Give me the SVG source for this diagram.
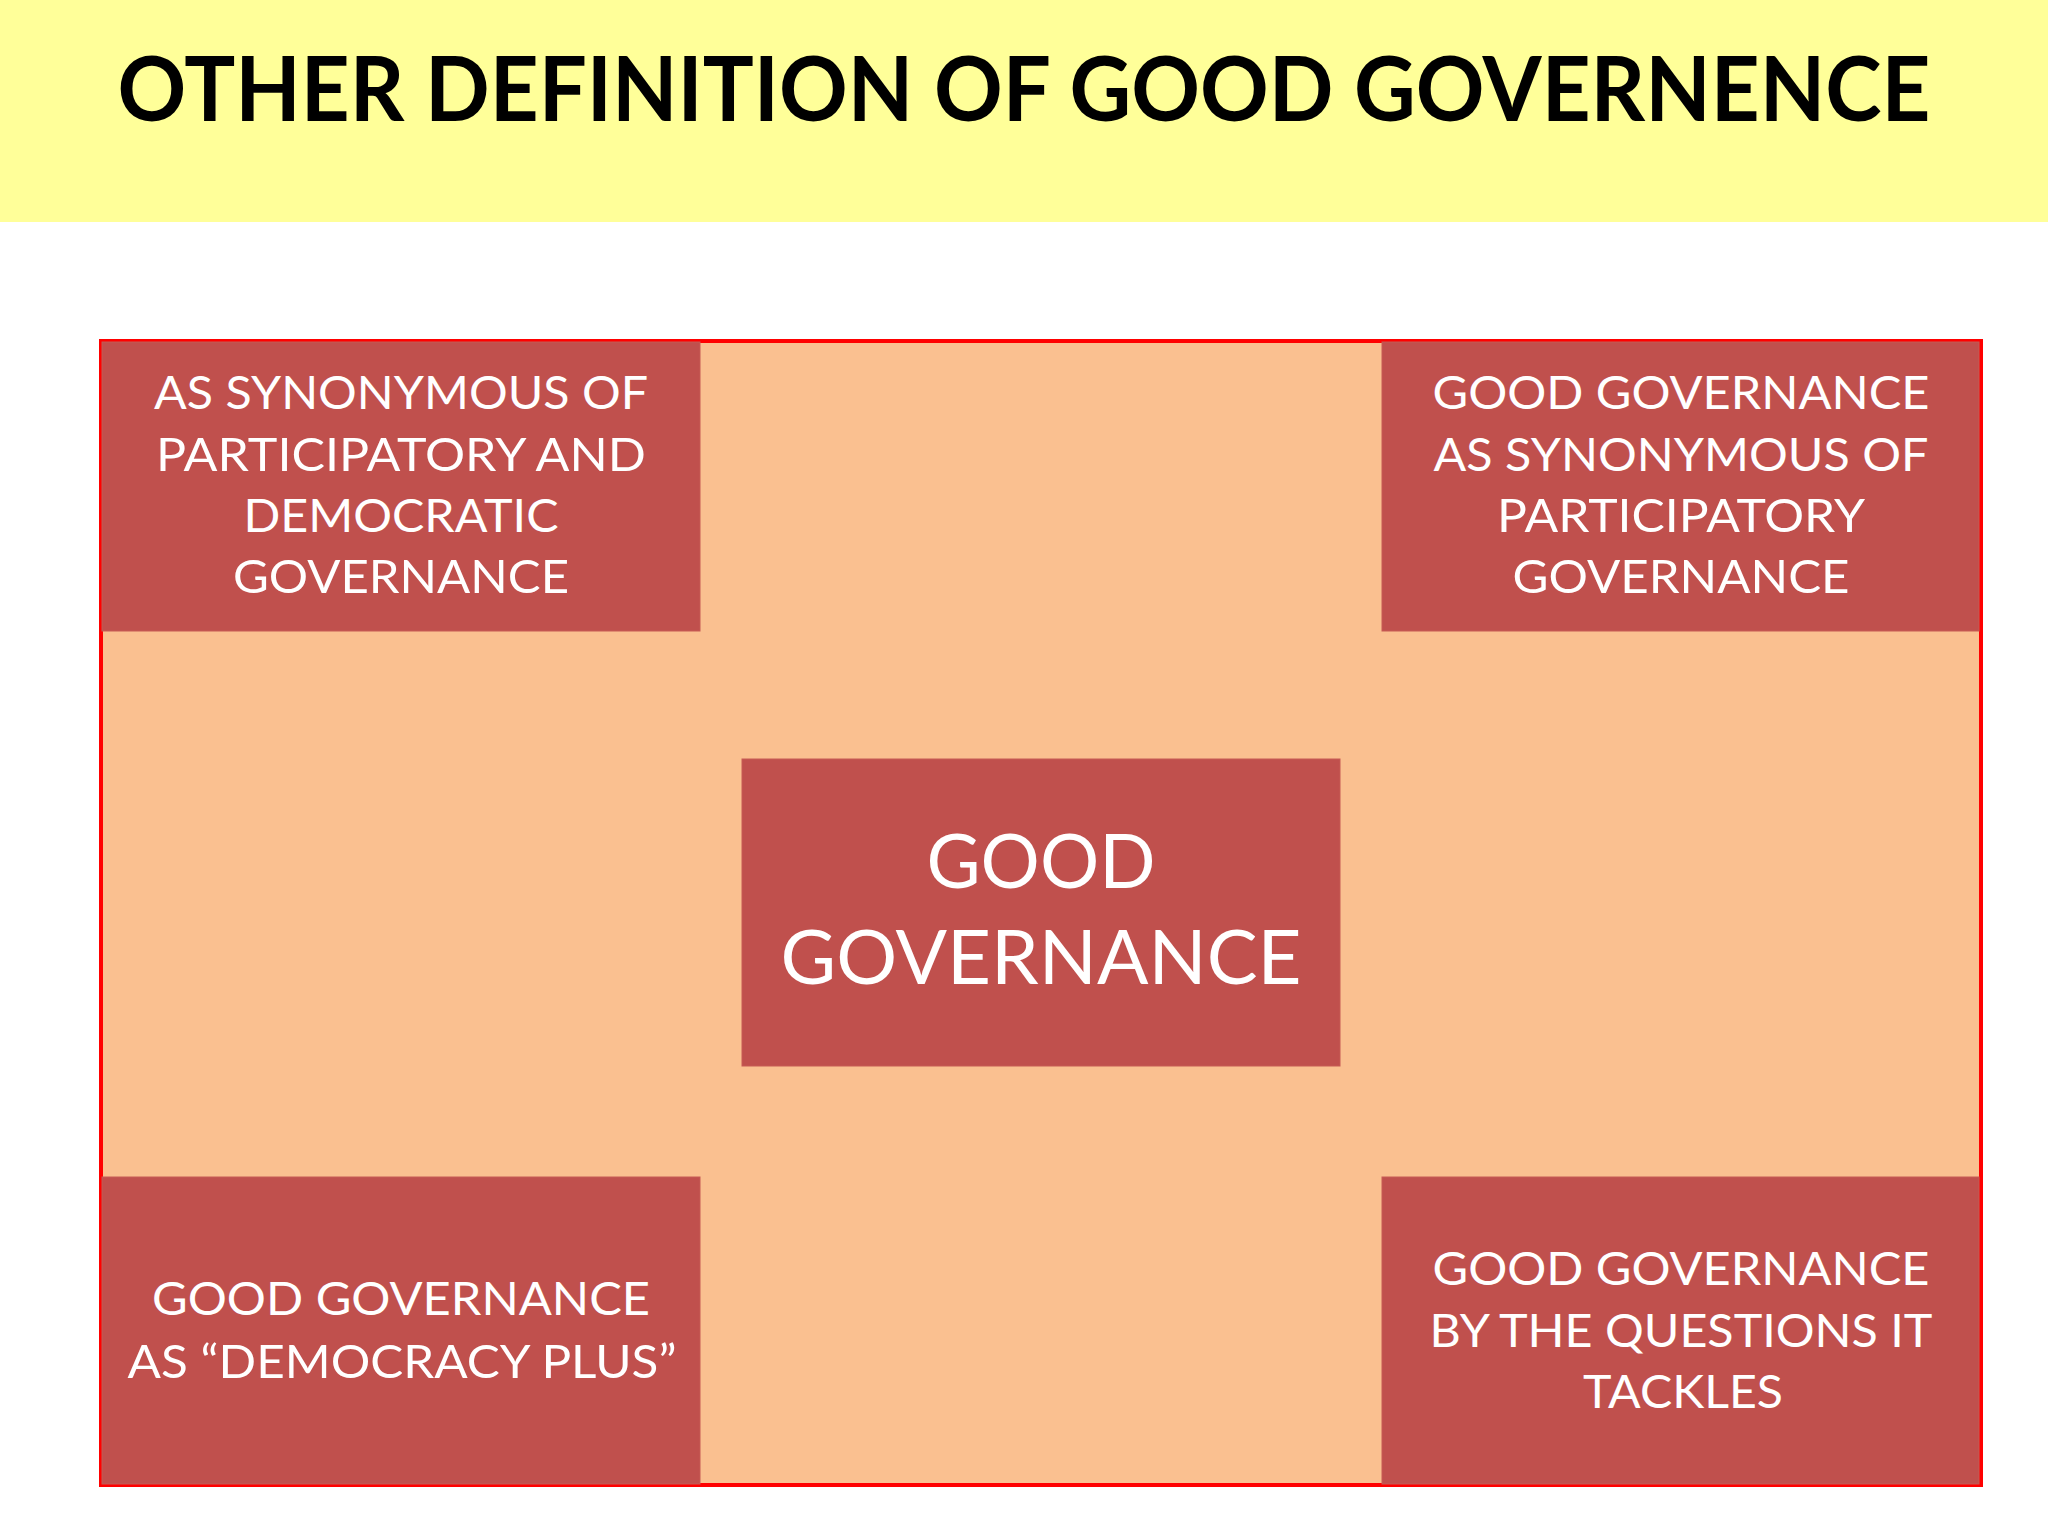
<svg xmlns="http://www.w3.org/2000/svg" width="2048" height="1536" viewBox="0 0 2048 1536">
<style>
.box{fill:#C0504D;stroke:#C65A55;stroke-width:1}
.t{font-family:Lato,"Open Sans","Liberation Sans",sans-serif;fill:#FFFFFF;text-anchor:middle;font-size:47px}
.c{font-size:76px}
.title{font-family:Lato,"Open Sans","Liberation Sans",sans-serif;font-weight:bold;font-size:89px;fill:#000000;text-anchor:middle}
</style>
<rect x="0" y="0" width="2048" height="1536" fill="#FFFFFF"/>
<g id="header">
<rect x="0" y="0" width="2048" height="222" fill="#FFFF99"/>
<text class="title" x="1024" y="121" textLength="1813" lengthAdjust="spacingAndGlyphs">OTHER DEFINITION OF GOOD GOVERNENCE</text>
</g>
<g id="frame">
<rect x="101" y="341" width="1880" height="1144" fill="#FAC090" stroke="#FF0000" stroke-width="4"/>
</g>
<g id="connectors"></g>
<g id="node-top-left">
<rect class="box" x="102" y="342" width="598" height="289"/>
<text class="t" x="401" y="409" textLength="494" lengthAdjust="spacingAndGlyphs">AS SYNONYMOUS OF</text>
<text class="t" x="401" y="471" textLength="490" lengthAdjust="spacingAndGlyphs">PARTICIPATORY AND</text>
<text class="t" x="401" y="532" textLength="315" lengthAdjust="spacingAndGlyphs">DEMOCRATIC</text>
<text class="t" x="401" y="593" textLength="336" lengthAdjust="spacingAndGlyphs">GOVERNANCE</text>
</g>
<g id="node-top-right">
<rect class="box" x="1382" y="342" width="597" height="289"/>
<text class="t" x="1681" y="409" textLength="497" lengthAdjust="spacingAndGlyphs">GOOD GOVERNANCE</text>
<text class="t" x="1681" y="471" textLength="495" lengthAdjust="spacingAndGlyphs">AS SYNONYMOUS OF</text>
<text class="t" x="1681" y="532" textLength="368" lengthAdjust="spacingAndGlyphs">PARTICIPATORY</text>
<text class="t" x="1681" y="593" textLength="337" lengthAdjust="spacingAndGlyphs">GOVERNANCE</text>
</g>
<g id="node-center">
<rect class="box" x="742" y="759" width="598" height="307"/>
<text class="t c" x="1041" y="888" textLength="229" lengthAdjust="spacingAndGlyphs">GOOD</text>
<text class="t c" x="1041" y="984" textLength="521" lengthAdjust="spacingAndGlyphs">GOVERNANCE</text>
</g>
<g id="node-bottom-left">
<rect class="box" x="102" y="1177" width="598" height="307"/>
<text class="t" x="401" y="1315" textLength="498" lengthAdjust="spacingAndGlyphs">GOOD GOVERNANCE</text>
<text class="t" x="402" y="1378" textLength="549" lengthAdjust="spacingAndGlyphs">AS “DEMOCRACY PLUS”</text>
</g>
<g id="node-bottom-right">
<rect class="box" x="1382" y="1177" width="597" height="307"/>
<text class="t" x="1681" y="1285" textLength="497" lengthAdjust="spacingAndGlyphs">GOOD GOVERNANCE</text>
<text class="t" x="1681" y="1347" textLength="503" lengthAdjust="spacingAndGlyphs">BY THE QUESTIONS IT</text>
<text class="t" x="1683" y="1408" textLength="200" lengthAdjust="spacingAndGlyphs">TACKLES</text>
</g>
</svg>
